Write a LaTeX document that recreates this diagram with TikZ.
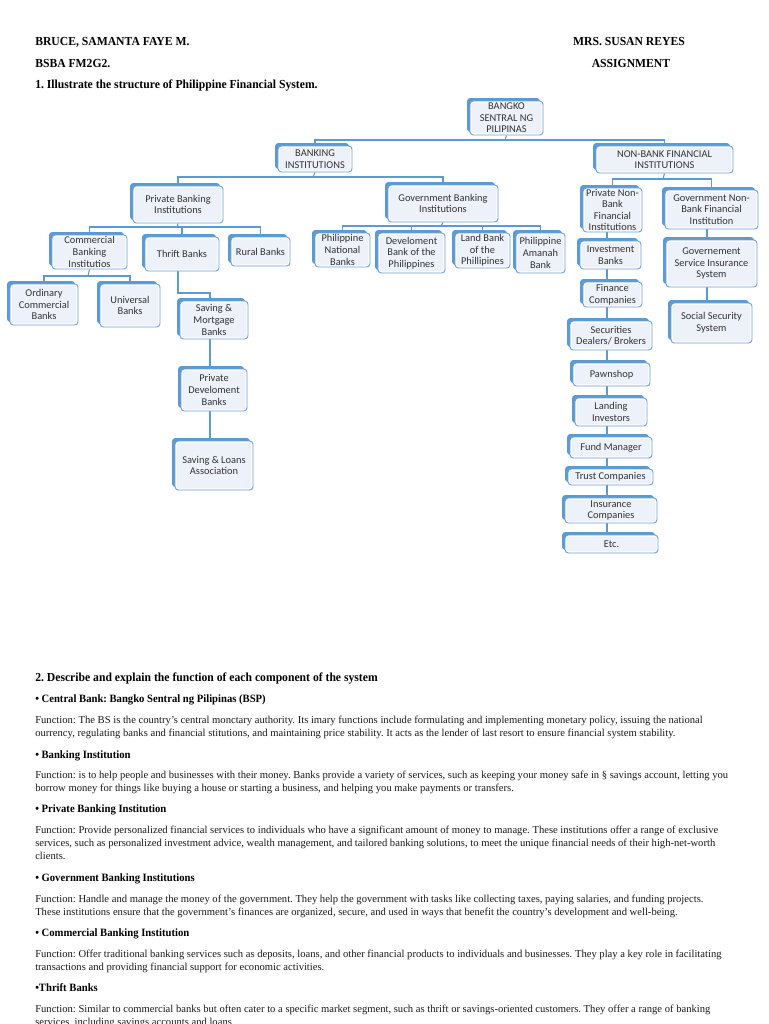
\documentclass[tikz,border=0pt]{standalone}
\usepackage{fontspec}
\setmainfont{Liberation Serif}
\newfontfamily\chartfont{Carlito}
\newfontfamily\hdfont[FakeStretch=0.95]{Liberation Serif}
\frenchspacing
\pgfdeclarelayer{bg}
\pgfsetlayers{bg,main}
\definecolor{shad}{HTML}{5B9BD5}
\definecolor{edgec}{HTML}{6F9FD8}
\definecolor{boxfill}{HTML}{EDF2FA}
\definecolor{connc}{HTML}{5B9BD5}
\definecolor{chtxt}{HTML}{333333}
\definecolor{bodytxt}{HTML}{1A1A1A}
\tikzset{
  cbox/.style={draw=edgec, line width=0.7pt, fill=white, rounded corners=2.5pt,
    inner sep=0pt, align=center, text=chtxt,
    font=\chartfont\fontsize{7.8}{8.7}\selectfont,
    path picture={\fill[boxfill, rounded corners=1.5pt]
      ([shift={(1.3pt,1.3pt)}]path picture bounding box.south west) rectangle
      ([shift={(-1.3pt,-1.3pt)}]path picture bounding box.north east);}},
  shadowbox/.style={fill=shad, rounded corners=2.5pt},
  conn/.style={draw=connc, line width=0.8pt},
  tline/.style={anchor=base west, inner sep=0pt, text=bodytxt, font=\fontsize{7.95}{9}\selectfont},
  hline/.style={anchor=base west, inner sep=0pt, text=black, font=\hdfont\bfseries\fontsize{9.2}{11}\selectfont},
  sline/.style={anchor=base west, inner sep=0pt, text=black, font=\hdfont\bfseries\fontsize{8.4}{10}\selectfont}
}
\newcommand\orgbox[6]{%
  \fill[shadowbox] (#2,#3) rectangle (#4-3,#5-3);
  \node[cbox, minimum width={(#4-#2-3)*0.75pt}, minimum height={(#5-#3-3)*0.75pt}]
    (#1) at ({(#2+3+#4)/2},{(#3+3+#5)/2}) {#6};}
\newcommand\bodyline[3]{\node[tline] (#1) at (35,#2) {#3};}
\begin{document}
\begin{tikzpicture}[x=0.75pt,y=-0.75pt]
\useasboundingbox (0,0) rectangle (768,1024);
\begin{pgfonlayer}{bg}
\fill[white] (0,0) rectangle (768,1024);
\end{pgfonlayer}

% header
\node[hline] (name) at (35,46) {BRUCE, SAMANTA FAYE M.};
\node[hline] (course) at (35,68) {BSBA FM2G2.};
\node[hline] (q1) at (35,89) {1. Illustrate the structure of Philippine Financial System.};
\node[hline, anchor=base] (teacher) at (629,46) {MRS. SUSAN REYES};
\node[hline, anchor=base] (assign) at (631,68) {ASSIGNMENT};

% chart boxes
\orgbox{bsp}{467}{98}{543}{135}{BANGKO\\SENTRAL NG\\PILIPINAS}
\orgbox{bank}{275}{143}{352}{172}{BANKING\\INSTITUTIONS}
\orgbox{nbfi}{593}{143}{733}{173}{NON-BANK FINANCIAL\\INSTITUTIONS}
\orgbox{pbi}{130}{183}{223}{223}{Private Banking\\Institutions}
\orgbox{gbi}{385}{182}{498}{222}{Government Banking\\Institutions}
\orgbox{cbi}{49}{232}{127}{269}{Commercial\\Banking\\Institutios}
\orgbox{thrift}{142}{234}{219}{271}{Thrift Banks}
\orgbox{rural}{228}{234}{290}{266}{Rural Banks}
\orgbox{ord}{7}{281}{78}{325}{Ordinary\\Commercial\\Banks}
\orgbox{univ}{97}{281}{160}{327}{Universal\\Banks}
\orgbox{sm}{177}{298}{248}{339}{Saving \&\\Mortgage\\Banks}
\orgbox{pdb}{178}{366}{247}{411}{Private\\Develoment\\Banks}
\orgbox{sl}{172}{438}{253}{490}{Saving \& Loans\\Association}
\orgbox{pnb}{312}{230}{370}{267}{Philippine\\National\\Banks}
\orgbox{dbp}{375}{230}{445}{273}{Develoment\\Bank of the\\Philippines}
\orgbox{lbp}{452}{230}{510}{268}{Land Bank\\of the\\Phillipines}
\orgbox{pab}{513}{230}{565}{273}{Philippine\\Amanah\\Bank}
\orgbox{pnbfi}{580}{185}{642}{232}{Private Non-\\Bank\\Financial\\Institutions}
\orgbox{gnbfi}{662}{187}{758}{229}{Government Non-\\Bank Financial\\Institution}
\orgbox{inv}{577}{238}{641}{269}{Investment\\Banks}
\orgbox{fin}{580}{279}{642}{307}{Finance\\Companies}
\orgbox{sec}{567}{318}{652}{350}{Securities\\Dealers/ Brokers}
\orgbox{gsis}{663}{237}{757}{287}{Governement\\Service Insurance\\System}
\orgbox{sss}{668}{300}{752}{343}{Social Security\\System}
\orgbox{pawn}{570}{360}{650}{386}{Pawnshop}
\orgbox{land}{572}{395}{647}{426}{Landing\\Investors}
\orgbox{fund}{567}{434}{652}{458}{Fund Manager}
\orgbox{trust}{565}{466}{653}{485}{Trust Companies}
\orgbox{ins}{562}{495}{657}{523}{Insurance\\Companies}
\orgbox{etc}{562}{532}{658}{553}{Etc.}

% connectors
\begin{pgfonlayer}{bg}
\coordinate (j0) at (505,140);
\draw[conn] (bsp.south) -- (j0);
\draw[conn] (bank.north) |- (j0) -| (nbfi.north);
\coordinate (j1) at (313,177);
\draw[conn] (bank.south) -- (j1);
\draw[conn] (pbi.north) |- (j1) -| (gbi.north);
\coordinate (j2) at (177,227);
\draw[conn] (pbi.south) -- (j2);
\draw[conn] (cbi.north) |- (j2) -| (rural.north);
\draw[conn] (thrift.north) -- (thrift.north |- j2);
\coordinate (j3) at (88,276);
\draw[conn] (cbi.south) -- (j3);
\draw[conn] (ord.north) |- (j3) -| (univ.north);
\coordinate (j4) at (178,293);
\coordinate (cs) at (210,0);
\draw[conn] (thrift.south -| j4) -- (j4) -| (sm.north -| cs);
\draw[conn] (sm.south -| cs) -- (pdb.north -| cs);
\draw[conn] (pdb.south -| cs) -- (sl.north -| cs);
\coordinate (j5) at (441,226);
\draw[conn] (gbi.south) -- (j5);
\draw[conn] (pnb.north) |- (j5) -| (pab.north);
\draw[conn] (dbp.north) -- (dbp.north |- j5);
\draw[conn] (lbp.north) -- (lbp.north |- j5);
\coordinate (j6) at (663,179);
\draw[conn] (nbfi.south) -- (j6);
\draw[conn] (pnbfi.north) |- (j6) -| (gnbfi.north);
\coordinate (cp) at (607,0);
\draw[conn] (pnbfi.south -| cp) -- (inv.north -| cp);
\draw[conn] (inv.south -| cp) -- (fin.north -| cp);
\draw[conn] (fin.south -| cp) -- (sec.north -| cp);
\draw[conn] (sec.south -| cp) -- (pawn.north -| cp);
\draw[conn] (pawn.south -| cp) -- (land.north -| cp);
\draw[conn] (land.south -| cp) -- (fund.north -| cp);
\draw[conn] (fund.south -| cp) -- (trust.north -| cp);
\draw[conn] (trust.south -| cp) -- (ins.north -| cp);
\draw[conn] (ins.south -| cp) -- (etc.north -| cp);
\coordinate (cg) at (707,0);
\draw[conn] (gnbfi.south -| cg) -- (gsis.north -| cg);
\draw[conn] (gsis.south -| cg) -- (sss.north -| cg);
\end{pgfonlayer}

% section 2
\node[hline] (q2) at (35,681) {2. Describe and explain the function of each component of the system};
\node[sline] (h1) at (35,702) {• Central Bank: Bangko Sentral ng Pilipinas (BSP)};
\bodyline{p1a}{723}{Function: The BS is the country's central monctary authority. Its imary functions include formulating and implementing monetary policy, issuing the national}
\bodyline{p1b}{736}{ourrency, regulating banks and financial stitutions, and maintaining price stability. It acts as the lender of last resort to ensure financial system stability.}
\node[sline] (h2) at (35,758) {• Banking Institution};
\bodyline{p2a}{778}{Function: is to help people and businesses with their money. Banks provide a variety of services, such as keeping your money safe in § savings account, letting you}
\bodyline{p2b}{791}{borrow money for things like buying a house or starting a business, and helping you make payments or transfers.}
\node[sline] (h3) at (35,812) {• Private Banking Institution};
\bodyline{p3a}{833}{Function: Provide personalized financial services to individuals who have a significant amount of money to manage. These institutions offer a range of exclusive}
\bodyline{p3b}{846}{services, such as personalized investment advice, wealth management, and tailored banking solutions, to meet the unique financial needs of their high-net-worth}
\bodyline{p3c}{859}{clients.}
\node[sline] (h4) at (35,881) {• Government Banking Institutions};
\bodyline{p4a}{902}{Function: Handle and manage the money of the government. They help the government with tasks like collecting taxes, paying salaries, and funding projects.}
\bodyline{p4b}{915}{These institutions ensure that the government's finances are organized, secure, and used in ways that benefit the country's development and well-being.}
\node[sline] (h5) at (35,936) {• Commercial Banking Institution};
\bodyline{p5a}{957}{Function: Offer traditional banking services such as deposits, loans, and other financial products to individuals and businesses. They play a key role in facilitating}
\bodyline{p5b}{970}{transactions and providing financial support for economic activities.}
\node[sline] (h6) at (35,991) {•Thrift Banks};
\bodyline{p6a}{1012}{Function: Similar to commercial banks but often cater to a specific market segment, such as thrift or savings-oriented customers. They offer a range of banking}
\bodyline{p6b}{1025}{services, including savings accounts and loans.}
\end{tikzpicture}
\end{document}
